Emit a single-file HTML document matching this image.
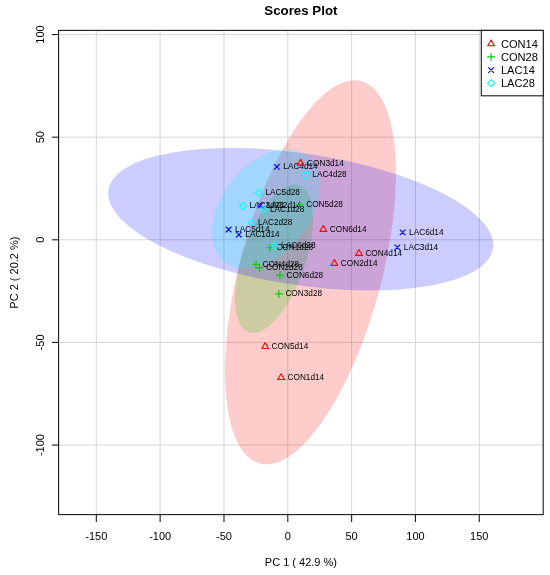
<!DOCTYPE html>
<html><head><meta charset="utf-8"><title>Scores Plot</title>
<style>
html,body{margin:0;padding:0;background:#fff;}
body{width:550px;height:575px;overflow:hidden;}
svg{display:block;}
text{font-family:"Liberation Sans",Arial,Helvetica,sans-serif;fill:#000;}
.ax{font-size:11.0px;}
.lb{font-size:8.25px;}
.mk path{fill:none;stroke-width:1.1;stroke-linejoin:round;stroke-linecap:round;}
</style></head><body>
<svg width="550" height="575" viewBox="0 0 550 575">
<rect x="0" y="0" width="550" height="575" fill="#fff"/>
<g stroke="#d3d3d3" stroke-width="0.9" fill="none">
<path d="M96.33 30.4V514.6"/>
<path d="M160.15 30.4V514.6"/>
<path d="M223.98 30.4V514.6"/>
<path d="M287.80 30.4V514.6"/>
<path d="M351.62 30.4V514.6"/>
<path d="M415.45 30.4V514.6"/>
<path d="M479.27 30.4V514.6"/>
<path d="M58.6 34.55H543.2"/>
<path d="M58.6 137.18H543.2"/>
<path d="M58.6 239.80H543.2"/>
<path d="M58.6 342.43H543.2"/>
<path d="M58.6 445.05H543.2"/>
</g>
<g fill-opacity="0.2" stroke="none">
<ellipse cx="310.5" cy="272.3" rx="197.8" ry="71.1" transform="rotate(104.9 310.5 272.3)" fill="#ff0000"/>
<ellipse cx="274.0" cy="258.8" rx="77.8" ry="31.5" transform="rotate(108.9 274.0 258.8)" fill="#00cd00"/>
<ellipse cx="300.7" cy="219.2" rx="194.5" ry="65.8" transform="rotate(-171.4 300.7 219.2)" fill="#0000ff"/>
<ellipse cx="266.2" cy="208.6" rx="67.6" ry="44.1" transform="rotate(128.2 266.2 208.6)" fill="#00ffff"/>
</g>
<g stroke="#1a1a1a" stroke-width="1.1" fill="none">
<rect x="58.6" y="30.4" width="484.6" height="484.20000000000005"/>
<path d="M96.33 514.6V522.1"/>
<path d="M160.15 514.6V522.1"/>
<path d="M223.98 514.6V522.1"/>
<path d="M287.80 514.6V522.1"/>
<path d="M351.62 514.6V522.1"/>
<path d="M415.45 514.6V522.1"/>
<path d="M479.27 514.6V522.1"/>
<path d="M58.6 34.55H51.9"/>
<path d="M58.6 137.18H51.9"/>
<path d="M58.6 239.80H51.9"/>
<path d="M58.6 342.43H51.9"/>
<path d="M58.6 445.05H51.9"/>
</g>
<g class="ax" text-anchor="middle">
<text x="96.33" y="539.8">-150</text>
<text x="160.15" y="539.8">-100</text>
<text x="223.98" y="539.8">-50</text>
<text x="287.80" y="539.8">0</text>
<text x="351.62" y="539.8">50</text>
<text x="415.45" y="539.8">100</text>
<text x="479.27" y="539.8">150</text>
<text transform="translate(44.2 34.55) rotate(-90)">100</text>
<text transform="translate(44.2 137.18) rotate(-90)">50</text>
<text transform="translate(44.2 239.80) rotate(-90)">0</text>
<text transform="translate(44.2 342.43) rotate(-90)">-50</text>
<text transform="translate(44.2 445.05) rotate(-90)">-100</text>
<text x="300.9" y="565.8">PC 1 ( 42.9 %)</text>
<text transform="translate(18.3 272.6) rotate(-90)">PC 2 ( 20.2 %)</text>
</g>
<text x="300.9" y="15.4" text-anchor="middle" font-size="13.3" font-weight="bold">Scores Plot</text>
<g class="lb">
<text x="287.5" y="380.0">CON1d14</text>
<text x="340.8" y="265.8">CON2d14</text>
<text x="307.1" y="165.6">CON3d14</text>
<text x="365.4" y="255.8">CON4d14</text>
<text x="271.6" y="348.9">CON5d14</text>
<text x="329.8" y="231.8">CON6d14</text>
<text x="276.4" y="250.2">CON1d28</text>
<text x="266.1" y="270.3">CON2d28</text>
<text x="285.4" y="296.3">CON3d28</text>
<text x="262.5" y="266.6">CON4d28</text>
<text x="306.2" y="207.4">CON5d28</text>
<text x="286.5" y="277.8">CON6d28</text>
<text x="245.3" y="237.1">LAC1d14</text>
<text x="266.8" y="207.8">LAC2d14</text>
<text x="403.8" y="249.7">LAC3d14</text>
<text x="283.3" y="169.2">LAC4d14</text>
<text x="235.1" y="231.9">LAC5d14</text>
<text x="409.1" y="234.7">LAC6d14</text>
<text x="269.9" y="212.0">LAC1d28</text>
<text x="257.9" y="225.0">LAC2d28</text>
<text x="249.5" y="208.4">LAC3d28</text>
<text x="312.3" y="177.2">LAC4d28</text>
<text x="265.5" y="195.4">LAC5d28</text>
<text x="281.1" y="248.2">LAC6d28</text>
</g>
<g class="mk">
<path d="M281.00 373.71L284.37 379.54L277.63 379.54Z" stroke="#ff0000"/>
<path d="M334.30 259.51L337.67 265.34L330.93 265.34Z" stroke="#ff0000"/>
<path d="M300.60 159.31L303.97 165.14L297.23 165.14Z" stroke="#ff0000"/>
<path d="M358.90 249.51L362.27 255.34L355.53 255.34Z" stroke="#ff0000"/>
<path d="M265.10 342.61L268.47 348.44L261.73 348.44Z" stroke="#ff0000"/>
<path d="M323.30 225.51L326.67 231.34L319.93 231.34Z" stroke="#ff0000"/>
<path d="M266.36 247.80H273.44M269.90 244.26V251.34" stroke="#00cd00"/>
<path d="M256.06 267.90H263.14M259.60 264.36V271.44" stroke="#00cd00"/>
<path d="M275.36 293.90H282.44M278.90 290.36V297.44" stroke="#00cd00"/>
<path d="M252.46 264.20H259.54M256.00 260.66V267.74" stroke="#00cd00"/>
<path d="M296.16 205.00H303.24M299.70 201.46V208.54" stroke="#00cd00"/>
<path d="M276.46 275.40H283.54M280.00 271.86V278.94" stroke="#00cd00"/>
<path d="M236.30 232.20L241.30 237.20M236.30 237.20L241.30 232.20" stroke="#0000ff"/>
<path d="M257.80 202.90L262.80 207.90M257.80 207.90L262.80 202.90" stroke="#0000ff"/>
<path d="M394.80 244.80L399.80 249.80M394.80 249.80L399.80 244.80" stroke="#0000ff"/>
<path d="M274.30 164.30L279.30 169.30M274.30 169.30L279.30 164.30" stroke="#0000ff"/>
<path d="M226.10 227.00L231.10 232.00M226.10 232.00L231.10 227.00" stroke="#0000ff"/>
<path d="M400.10 229.80L405.10 234.80M400.10 234.80L405.10 229.80" stroke="#0000ff"/>
<path d="M259.86 209.60L263.40 206.06L266.94 209.60L263.40 213.14Z" stroke="#00ffff"/>
<path d="M247.86 222.60L251.40 219.06L254.94 222.60L251.40 226.14Z" stroke="#00ffff"/>
<path d="M239.46 206.00L243.00 202.46L246.54 206.00L243.00 209.54Z" stroke="#00ffff"/>
<path d="M302.26 174.80L305.80 171.26L309.34 174.80L305.80 178.34Z" stroke="#00ffff"/>
<path d="M255.46 193.00L259.00 189.46L262.54 193.00L259.00 196.54Z" stroke="#00ffff"/>
<path d="M271.06 245.80L274.60 242.26L278.14 245.80L274.60 249.34Z" stroke="#00ffff"/>
</g>
<rect x="481.3" y="30.4" width="62" height="65.4" fill="#fff" stroke="#1a1a1a" stroke-width="1.1"/>
<g class="mk">
<path d="M491.10 39.91L494.47 45.74L487.73 45.74Z" stroke="#ff0000"/>
<path d="M487.56 56.90H494.64M491.10 53.36V60.44" stroke="#00cd00"/>
<path d="M488.60 67.60L493.60 72.60M488.60 72.60L493.60 67.60" stroke="#0000ff"/>
<path d="M487.56 83.10L491.10 79.56L494.64 83.10L491.10 86.64Z" stroke="#00ffff"/>
</g>
<g font-size="11.1">
<text x="500.9" y="47.7">CON14</text>
<text x="500.9" y="60.7">CON28</text>
<text x="500.9" y="73.7">LAC14</text>
<text x="500.9" y="86.6">LAC28</text>
</g>
</svg></body></html>
